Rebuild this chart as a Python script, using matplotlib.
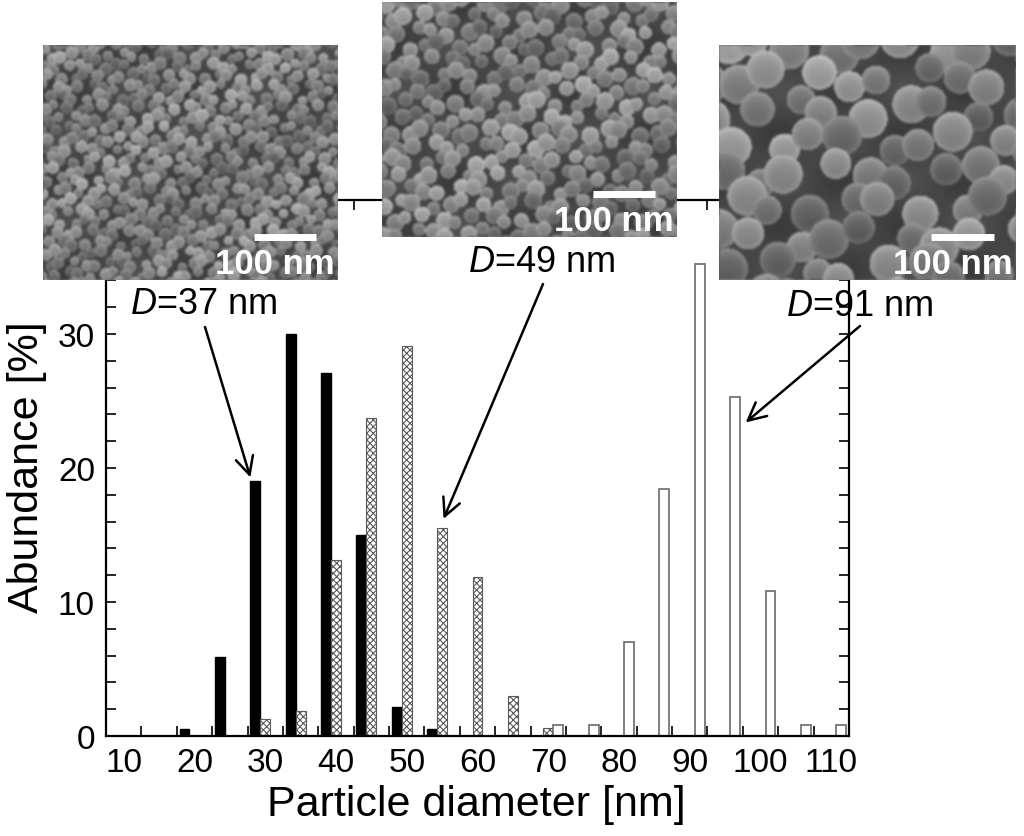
import numpy as np
import matplotlib
matplotlib.use("Agg")
from matplotlib import pyplot as plt
from matplotlib.ticker import MultipleLocator, FixedLocator

plt.rcParams['font.family'] = ['Liberation Sans', 'DejaVu Sans']
plt.rcParams['mathtext.fontset'] = 'custom'
plt.rcParams['mathtext.it'] = 'Liberation Sans:italic'
plt.rcParams['mathtext.rm'] = 'Liberation Sans'
plt.rcParams['hatch.linewidth'] = 0.8

# Particle size distributions (abundance in %) per 5 nm bin
bins = [20, 25, 30, 35, 40, 45, 50, 55, 60, 65, 70, 75, 80, 85, 90, 95, 100, 105, 110]
d37 = [0.5, 5.9, 19.0, 30.0, 27.1, 15.0, 2.2, 0.5, 0, 0, 0, 0, 0, 0, 0, 0, 0, 0, 0]
d49 = [0, 0, 1.3, 1.9, 13.1, 23.7, 29.1, 15.5, 11.9, 3.0, 0.6, 0, 0, 0, 0, 0, 0, 0, 0]
d91 = [0, 0, 0, 0, 0, 0, 0, 0, 0, 0, 0.8, 0.8, 7.0, 18.4, 35.2, 25.3, 10.8, 0.8, 0.8]

xticks = [10, 20, 30, 40, 50, 60, 70, 80, 90, 100, 110]
yticks = [0, 10, 20, 30]
labels = ["$D$=37 nm", "$D$=49 nm", "$D$=91 nm"]
particle_px = [13, 18, 40]   # rough particle size in the SEM insets


def sem_texture(h, w, d, ph):
    # fake SEM picture: packed grey discs on a dark background
    yy, xx = np.mgrid[0:h, 0:w]
    img = 0.27 + 0.04 * np.sin(xx * 0.05 + ph) * np.cos(yy * 0.07)
    dy = d * 0.80
    dx = d * 0.92
    r0 = d / 2.0
    for i in range(-1, int(h / dy) + 2):
        for j in range(-1, int(w / dx) + 2):
            cx = j * dx + (i % 2) * dx / 2 + 0.25 * d * np.sin(1.3 * i + 2.1 * j + ph)
            cy = i * dy + 0.25 * d * np.cos(1.7 * j - 0.9 * i + ph)
            rr = r0 * (0.86 + 0.14 * np.sin(0.7 * i * j + ph))
            b = 0.50 + 0.08 * np.sin(2.3 * i - 1.1 * j + ph) + 0.05 * np.cos(0.4 * i + 0.3 * j)
            x0, x1 = max(int(cx - rr) - 1, 0), min(int(cx + rr) + 2, w)
            y0, y1 = max(int(cy - rr) - 1, 0), min(int(cy + rr) + 2, h)
            if x0 >= x1 or y0 >= y1:
                continue
            px = xx[y0:y1, x0:x1]
            py = yy[y0:y1, x0:x1]
            dist = np.hypot(px - cx, py - cy) / rr
            m = dist < 1
            patch = img[y0:y1, x0:x1]
            patch[m] = (b + 0.12 * dist[m] ** 4 - 0.07 * (py[m] - cy) / rr
                        + 0.03 * np.sin(px[m] * 1.9 + py[m] * 2.7) * np.sin(px[m] * 0.8 - py[m] * 1.3))
    # soften a little
    for _ in range(2):
        out = np.zeros_like(img)
        for a in (-1, 0, 1):
            for c in (-1, 0, 1):
                out += np.roll(np.roll(img, a, 0), c, 1)
        img = out / 9
    return img


fig = plt.figure(figsize=(10.24, 8.37), dpi=100)
ax = fig.add_axes([106 / 1024, 1 - 737 / 837, 743 / 1024, 536 / 837])

x = np.array(bins, dtype=float)
w = 1.4
for vals, off, kw in [
    (d37, -w, dict(color="black", edgecolor="black")),
    (d49, 0.0, dict(facecolor="white", edgecolor="#5a5a5a", hatch="xxxxx", linewidth=0.8)),
    (d91, w, dict(facecolor="white", edgecolor="#6a6a6a", linewidth=1.2)),
]:
    v = np.array(vals)
    m = v > 0
    ax.bar(x[m] + off, v[m], width=w, **kw)

ax.set_xlim(7.5, 112.5)
ax.set_ylim(0, 40)
ax.xaxis.set_major_locator(FixedLocator(xticks))
ax.xaxis.set_minor_locator(FixedLocator(np.arange(12.5, 112.5, 5)))
ax.yaxis.set_major_locator(FixedLocator(yticks))
ax.yaxis.set_minor_locator(MultipleLocator(2))
ax.tick_params(axis="x", which="major", length=0, labelsize=24, pad=8)
ax.tick_params(axis="y", which="major", length=7, width=1.2, direction="in",
               right=True, labelsize=24, pad=8)
ax.tick_params(which="minor", length=7, width=1.2, direction="in", top=True, right=True)
for s in ax.spines.values():
    s.set_linewidth(1.6)

ax.set_xlabel("Particle diameter [nm]", fontsize=31)
ax.xaxis.set_label_coords(0.498, -0.09)
ax.set_ylabel("Abundance [%]", fontsize=31)
ax.yaxis.set_label_coords(-0.079, 0.504)

# labels with arrows
fig.text(204 / 1024, 1 - 305 / 837, labels[0], fontsize=26, ha="center", va="center")
fig.text(542 / 1024, 1 - 262 / 837, labels[1], fontsize=26, ha="center", va="center")
fig.text(860 / 1024, 1 - 307 / 837, labels[2], fontsize=26, ha="center", va="center")
arrow = dict(arrowstyle="->", lw=1.8, color="black", mutation_scale=32, shrinkA=0, shrinkB=0)
ax.annotate("", xy=(27.9, 19.3), xytext=(205 / 1024, 1 - 328 / 837),
            textcoords="figure fraction", arrowprops=arrow, annotation_clip=False)
ax.annotate("", xy=(55.2, 16.2), xytext=(543 / 1024, 1 - 285 / 837),
            textcoords="figure fraction", arrowprops=arrow, annotation_clip=False)
ax.annotate("", xy=(97.9, 23.4), xytext=(860 / 1024, 1 - 327 / 837),
            textcoords="figure fraction", arrowprops=arrow, annotation_clip=False)

# SEM insets
insets = [(43, 281, 295, 235), (382, 238, 295, 235), (719, 281, 297, 235)]
for n, (left, bottom, wd, ht) in enumerate(insets):
    iax = fig.add_axes([left / 1024, 1 - bottom / 837, wd / 1024, ht / 837])
    img = sem_texture(ht, wd, particle_px[n], 0.7 * n + 0.3)
    iax.imshow(img, cmap="gray", vmin=0, vmax=1, interpolation="bilinear", aspect="auto")
    iax.plot([0.714, 0.925], [0.182, 0.182], color="white", lw=5,
             transform=iax.transAxes, solid_capstyle="butt")
    iax.text(0.99, 0.03, "100 nm", color="white", fontsize=25, fontweight="bold",
             ha="right", va="baseline", transform=iax.transAxes)
    iax.set_xticks([])
    iax.set_yticks([])
    for s in iax.spines.values():
        s.set_visible(False)

fig.savefig("out.png", dpi=100)
